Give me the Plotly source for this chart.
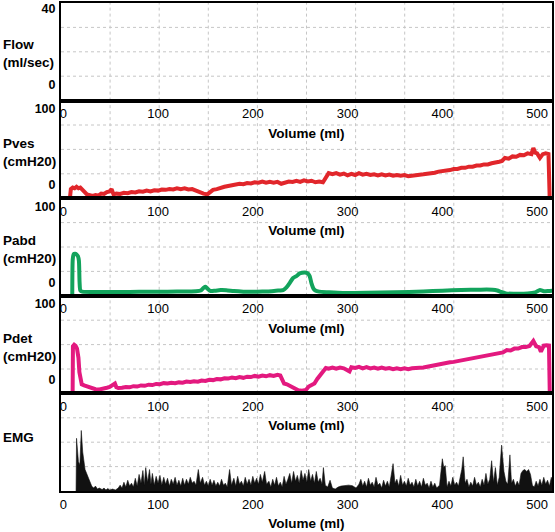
import plotly.graph_objects as go
from plotly.subplots import make_subplots

# ---------------- values ----------------
X_TICKS = [0, 100, 200, 300, 400, 500]
FLOW_TICKS = [0, 40]
PRESSURE_TICKS = [0, 100]

PANEL_TITLES = ["Flow<br>(ml/sec)", "Pves<br>(cmH20)", "Pabd<br>(cmH20)",
                "Pdet<br>(cmH20)", "EMG"]

# no flow was recorded during filling
FLOW_VOL = []
FLOW_MLS = []

PVES_VOL = [7, 8, 10, 12, 14, 16, 18, 20, 22, 25,
            28, 31, 34, 37, 40, 43, 46, 49, 51, 53,
            56, 60, 64, 68, 72, 76, 80, 84, 88, 92,
            96, 100, 104, 108, 112, 116, 120, 124, 128, 132,
            136, 140, 144, 148, 152, 155, 158, 162, 166, 170,
            174, 178, 182, 186, 190, 194, 198, 202, 206, 210,
            214, 218, 222, 226, 230, 234, 238, 242, 246, 250,
            254, 258, 262, 266, 270, 274, 277, 280, 284, 288,
            292, 296, 300, 304, 308, 312, 316, 320, 324, 328,
            332, 336, 340, 344, 348, 352, 356, 360, 364, 368,
            372, 376, 380, 384, 388, 392, 396, 400, 404, 408,
            412, 416, 420, 424, 428, 432, 436, 440, 444, 448,
            452, 456, 460, 463, 466, 470, 474, 478, 482, 486,
            490, 494, 496, 498, 500, 503, 506, 509, 512, 513.5]
PVES_CM = [-18, -6, -4, -5, -3, -5, -4, -7, -10, -13,
           -14, -15, -14, -14.5, -12, -12.5, -10, -9, -6, -13,
           -12, -12.5, -11, -11.5, -10, -10.5, -9, -9.5, -8, -9,
           -7.5, -8, -6.5, -7, -6, -6.5, -5, -6, -5, -6.5,
           -6, -8, -11, -12, -13, -10, -7, -6, -4, -3,
           -2, -1, -0.5, 1, 0.5, 2, 1.5, 3, 2.5, 4,
           2.5, 3.5, 2.5, 3.5, 1, 2, 4, 3.5, 5, 3.5,
           5.5, 4, 5, 3, 4, 3, 9, 15, 13.5, 15,
           13, 14.5, 12, 14, 12.5, 15, 13, 14, 12.5, 13.5,
           12, 13.5, 12, 13, 11.5, 12.5, 11.5, 12.5, 11, 12,
           12, 13, 13.5, 14, 15, 15.5, 17, 17.5, 18.5, 19,
           20.5, 20.5, 22, 22, 23.5, 23.5, 25, 25, 26.5, 26.5,
           28, 28.5, 30, 31, 35, 34, 37, 36.5, 39, 38.5,
           41, 40, 48, 42, 41, 35, 40, 41, 40, -30]

PABD_VOL = [9.5, 10, 11, 12.5, 14, 15.5, 16.5, 17.2, 18, 20,
            40, 60, 80, 100, 120, 140, 145, 148, 150, 152,
            155, 160, 166, 172, 180, 190, 200, 210, 220, 228,
            232, 235.5, 239, 242.5, 246, 249.5, 252, 255, 258, 260,
            262, 264, 266, 270, 280, 295, 320, 350, 380, 400,
            420, 440, 453, 458, 462, 467, 475, 490, 498, 503,
            507, 512, 516]
PABD_CM = [-17, 30, 37, 37.5, 36.5, 34, 28, 0, -11, -12.5,
           -13, -13, -12.8, -12.6, -12.4, -12, -11, -7.5, -6, -8.5,
           -11.5, -11.3, -10.4, -10.6, -11.8, -12.6, -12.8, -12.5, -12, -11,
           -10.5, -7, -1, 5.5, 8, 11.5, 12.3, 12.7, 11.5, 8,
           -2, -8.5, -11, -12.5, -13.3, -14.2, -14, -13.3, -12.3, -11.3,
           -10.4, -9.9, -10, -11, -13, -14.8, -15.3, -15, -13.5, -10.5,
           -12, -11.7, -11.3]

PDET_VOL = [9.8, 10.2, 11.5, 13, 14.5, 16, 17, 18, 19.5, 22,
            25, 28, 31, 34, 37, 40, 43, 46, 49, 52,
            54.5, 56, 58, 62, 66, 70, 74, 78, 82, 86,
            90, 94, 98, 102, 106, 110, 114, 118, 122, 126,
            130, 134, 138, 142, 146, 150, 154, 158, 162, 166,
            170, 174, 178, 182, 186, 190, 194, 198, 202, 206,
            210, 214, 218, 222, 226, 229, 231, 233, 236, 240,
            244, 248, 252, 256, 259, 262, 265, 268, 271, 274,
            277, 280, 284, 288, 292, 296, 300, 302, 304, 308,
            312, 316, 320, 324, 328, 332, 336, 340, 344, 348,
            352, 356, 360, 364, 368, 372, 376, 380, 384, 388,
            392, 396, 400, 404, 408, 412, 416, 420, 424, 428,
            432, 436, 440, 444, 448, 452, 456, 460, 464, 468,
            472, 476, 480, 484, 488, 492, 496, 499, 502, 504,
            507, 510, 512.5, 513.5]
PDET_CM = [-30, 44, 46, 44.5, 41, 29, 10, -1, -6, -7.5,
           -9, -10.5, -11, -12.5, -13, -12.5, -11.5, -10.5, -9.5, -7.5,
           -5, -10, -11, -10.5, -9.5, -10, -8.5, -9, -7.5, -8,
           -6.5, -7, -5.5, -6, -4.5, -5, -4, -4.5, -3.5, -4,
           -2.5, -3, -2, -2.5, -1, -1.5, 0, -0.5, 1, 0.5,
           2, 1.5, 3, 2, 3.5, 2.5, 4, 3.5, 5, 4,
           5.5, 4.5, 6, 5, 6.5, 5.5, 0, -5, -6, -9,
           -11, -14, -14.5, -13.5, -9, -6.5, -5, 1, 6, 12,
           15.5, 14.5, 16, 14.5, 16, 15, 13, 11, 16.5, 15.5,
           17, 15, 16.5, 15, 16, 14.5, 16, 14.5, 15.5, 14,
           15, 14, 15, 14, 15, 15, 15.5, 16, 17, 18,
           19, 21, 21.5, 22, 23, 23.5, 24.5, 25, 26, 26.5,
           28, 29, 29.5, 31, 31.5, 33, 33.5, 35, 36, 39,
           38.5, 41, 41, 43, 43, 44.5, 51, 44, 43, 37,
           45, 45.5, 45, -30]

EMG_VOL = [13.5, 14, 16, 17.5, 19, 20.5, 23, 26, 28, 30,
           32, 34, 36, 38, 41, 43, 45, 47, 49, 52,
           55, 58, 60, 62, 64, 66, 68, 70, 72, 74,
           76, 78, 80, 82, 84, 85.5, 87, 89, 91, 92.5,
           94, 96, 98, 100, 102, 104, 106, 108, 110, 112,
           114, 116, 118, 120, 122, 124, 126, 128, 130, 132,
           134, 136, 138, 140, 142.5, 144.5, 147, 149, 151, 153,
           155, 157, 159, 161, 163, 165, 167, 169, 171, 173,
           175.5, 177.5, 180, 182, 184, 186, 188, 190, 192, 194,
           196, 198, 200, 202, 204, 206, 208, 210, 212.5, 214.5,
           217, 219, 221, 223, 225, 227, 229, 231, 233, 235,
           237, 239, 241, 243, 245, 247, 249, 251, 253, 255,
           257, 259, 261, 263, 265, 267, 269, 271, 273, 274.5,
           276.5, 279, 281.5, 284, 287, 290, 293, 297, 301, 305,
           309, 312, 314, 316, 318, 320, 322, 324, 326, 328,
           330, 332, 334, 336, 338, 340, 342, 344, 346, 348,
           350, 352, 354, 356, 358, 360, 362, 364, 366, 368,
           370, 372, 374, 376, 378, 380, 382, 384, 386, 388,
           390, 392, 394, 397, 400, 401.5, 403, 405, 407, 409,
           411, 413, 415, 417, 419, 420.5, 422, 424, 426, 428,
           430, 432, 434, 436, 438, 440, 442, 444, 446, 448,
           450, 452, 454, 456, 458, 460, 462.5, 465, 467, 469,
           471.3, 473, 475, 477, 479, 481, 483, 485, 487, 489,
           491, 493, 495, 497, 499, 501, 503, 505, 507, 509,
           511, 513, 515, 516]
EMG_AMP = [0, 54, 30, 27, 62, 40, 22, 15, 11, 5,
           3, 5, 2, 3, 1.5, 3, 1, 2.5, 1, 2,
           1, 3, 6, 3, 9, 4, 11, 5, 8, 4,
           13, 5, 17, 8, 21, 6, 24, 9, 22, 7,
           18, 6, 15, 8, 16, 6, 14, 7, 13, 5,
           12, 7, 14, 6, 11, 5, 13, 6, 12, 7,
           14, 8, 10, 6, 22, 8, 14, 6, 10, 5,
           12, 6, 11, 5, 9, 5, 12, 6, 8, 4,
           22, 6, 13, 5, 15, 7, 10, 5, 14, 7,
           12, 6, 15, 8, 13, 7, 17, 9, 20, 7,
           10, 4, 12, 6, 14, 5, 9, 4, 15, 7,
           12, 18, 8, 20, 10, 16, 8, 21, 11, 18,
           9, 22, 10, 17, 8, 20, 9, 13, 7, 24,
           6, 4, 11, 3, 2, 4, 5, 5.5, 6, 5.5,
           3, 7, 12, 5, 10, 4, 13, 6, 9, 4,
           14, 6, 8, 3, 11, 5, 10, 4, 15, 28,
           8, 12, 5, 16, 6, 10, 5, 13, 6, 9,
           4, 12, 5, 10, 4, 13, 6, 8, 3, 10,
           4, 8, 3, 6, 33, 24, 26, 4, 10, 5,
           14, 6, 9, 5, 15, 22, 35, 8, 12, 4,
           9, 5, 14, 6, 9, 4, 12, 6, 18, 7,
           12, 31, 9, 24, 6, 14, 47, 20, 10, 7,
           37, 8, 12, 5, 10, 6, 18, 21, 22, 20,
           22, 17, 6, 4, 10, 5, 12, 6, 14, 7,
           11, 5, 14, 10]

# ---------------- look ----------------
FONT = "Liberation Sans, Arial, Helvetica, sans-serif"
GRID = "#c6c6c6"
X_RANGE = [-2.4, 515.7]
FLOW_RANGE = [-8.4, 43.2]
P_RANGE = [-18, 110.5]
EMG_RANGE = [0, 100]

fig = make_subplots(rows=5, cols=1, vertical_spacing=0)

fig.add_trace(go.Scatter(x=FLOW_VOL, y=FLOW_MLS, mode="lines",
                         line=dict(color="#1f5fbf", width=3)), row=1, col=1)
fig.add_trace(go.Scatter(x=PVES_VOL, y=PVES_CM, mode="lines",
                         line=dict(color="#e1262b", width=4)), row=2, col=1)
fig.add_trace(go.Scatter(x=PABD_VOL, y=PABD_CM, mode="lines",
                         line=dict(color="#12a35c", width=4, shape="spline", smoothing=0.6)),
              row=3, col=1)
fig.add_trace(go.Scatter(x=PDET_VOL, y=PDET_CM, mode="lines",
                         line=dict(color="#e3197f", width=4)), row=4, col=1)
fig.add_trace(go.Scatter(x=EMG_VOL, y=EMG_AMP, mode="lines", fill="tozeroy",
                         fillcolor="#111111", line=dict(color="#111111", width=0.6)),
              row=5, col=1)

y_setup = [(FLOW_RANGE, FLOW_TICKS), (P_RANGE, PRESSURE_TICKS), (P_RANGE, PRESSURE_TICKS),
           (P_RANGE, PRESSURE_TICKS), (EMG_RANGE, [])]

shapes = []
for i, (yr, yt) in enumerate(y_setup):
    row = i + 1
    fig.update_xaxes(row=row, col=1, range=X_RANGE, tickvals=X_TICKS, ticks="",
                     showgrid=False, zeroline=False, showline=True, mirror=True,
                     linecolor="black", linewidth=2,
                     tickfont=dict(family=FONT, size=13, color="black"),
                     title=dict(text="Volume (ml)", standoff=8,
                                font=dict(family=FONT, size=13.5, color="black", weight="bold")))
    fig.update_yaxes(row=row, col=1, range=yr, tickvals=yt, ticks="",
                     showgrid=False, zeroline=False, showline=True, mirror=True,
                     linecolor="black", linewidth=2, showticklabels=bool(yt),
                     ticklabelstandoff=1,
                     tickfont=dict(family=FONT, size=12.5, color="black", weight="bold"))
    xs = "x" if row == 1 else f"x{row}"
    ys = "y" if row == 1 else f"y{row}"
    # dotted grid: 10 columns, 4 rows per panel
    for k in range(1, 10):
        shapes.append(dict(type="line", xref=f"{xs} domain", yref=f"{ys} domain",
                           x0=k / 10, x1=k / 10, y0=0, y1=1, layer="below",
                           line=dict(color=GRID, width=1, dash="dot")))
    for k in range(1, 4):
        shapes.append(dict(type="line", xref=f"{xs} domain", yref=f"{ys} domain",
                           x0=0, x1=1, y0=k / 4, y1=k / 4, layer="below",
                           line=dict(color=GRID, width=1, dash="dot")))

# panel names at the far left
label_y = [0.897, 0.694, 0.494, 0.294, 0.110]
annotations = []
for text, yy in zip(PANEL_TITLES, label_y):
    annotations.append(dict(text=text, xref="paper", yref="paper", x=-0.122, y=yy,
                            xanchor="left", yanchor="middle", align="left", showarrow=False,
                            font=dict(family=FONT, size=13.5, color="black", weight="bold")))

fig.update_layout(
    width=555, height=532,
    margin=dict(l=61, r=3, t=1, b=41),
    paper_bgcolor="white", plot_bgcolor="rgba(0,0,0,0)",
    showlegend=False,
    shapes=shapes,
    annotations=annotations,
    font=dict(family=FONT, color="black"),
)

# page has a default 8px body margin; drop it so the figure fills the window
fig.write_html("out.html", config={"displayModeBar": False},
               post_script="document.body.style.margin='0';document.body.style.overflow='hidden';")
